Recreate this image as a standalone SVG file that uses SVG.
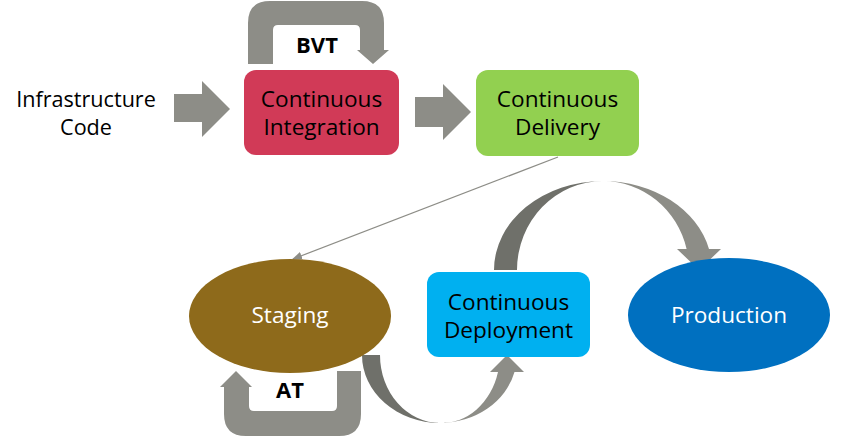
<svg xmlns="http://www.w3.org/2000/svg" width="842" height="447" viewBox="0 0 842 447">
<defs>
<style>
.t{font-family:"Open Sans","Noto Sans","Liberation Sans",sans-serif;font-size:22.6px;text-anchor:middle;fill:#000}
.w{fill:#fff}
.b{font-weight:bold;font-size:22px}
.arr{fill:#8D8D87}
.dark{fill:#6F706A}
</style>
<marker id="ah" markerWidth="10" markerHeight="8" refX="9" refY="4" orient="auto" markerUnits="userSpaceOnUse">
<path d="M0,0 L10,4 L0,8 Z" fill="#8D8D87"/>
</marker>
</defs>
<rect width="842" height="447" fill="#fff"/>

<g id="connectors">
<path class="arr" d="M174,94 L202,94 L202,81 L230,109 L202,137 L202,122 L174,122 Z"/>
<path class="arr" d="M415,97 L443,97 L443,84 L471,112 L443,140 L443,127 L415,127 Z"/>
<path class="arr" d="M248,64 L248,23 Q248,1 270,1 L362,1 Q384,1 384,23 L384,50 L389,50 L373,64 L357,50 L360,50 L360,30 Q360,25 355,25 L278,25 Q273,25 273,30 L273,64 Z"/>
<path class="arr" d="M361,371 L361,414 Q361,436 339,436 L246,436 Q224,436 224,414 L224,387 L220,387 L236,371 L252,387 L249,387 L249,406 Q249,411 254,411 L332,411 Q337,411 337,406 L337,371 Z"/>
<line x1="558" y1="157" x2="293" y2="259" stroke="#8D8D87" stroke-width="1.2" marker-end="url(#ah)"/>
<path class="dark" d="M494,270 A109,89 0 0 1 603,181 A86,89 0 0 0 517,270 Z"/>
<path class="arr" d="M603,181 A109,89 0 0 1 709,249 L721,249 L699,270 L677,249 L686.6,249 A86,89 0 0 0 603,181 Z"/>
<path class="dark" d="M362,355 A78,68 0 0 0 440,423 A60,68 0 0 1 380,355 Z"/>
<path class="arr" d="M440,423 A77,68 0 0 0 514.5,372 L524,372 L507,355 L490,372 L498,372 A58,68 0 0 1 440,423 Z"/>
</g>

<g id="infra">
<text class="t" x="86" y="107" style="font-size:21.6px">Infrastructure</text>
<text class="t" x="86" y="135" style="font-size:21.6px">Code</text>
</g>

<g id="bvt"><text class="t b" x="317" y="53">BVT</text></g>
<g id="at"><text class="t b" x="290" y="398">AT</text></g>

<g id="ci">
<rect x="244" y="70" width="155" height="85" rx="12" fill="#D13A57"/>
<text class="t" x="321.5" y="107">Continuous</text>
<text class="t" x="321.5" y="135">Integration</text>
</g>

<g id="cd">
<rect x="476" y="70" width="163" height="86" rx="12" fill="#92D050"/>
<text class="t" x="557.5" y="107">Continuous</text>
<text class="t" x="557.5" y="135">Delivery</text>
</g>

<g id="staging">
<ellipse cx="290" cy="316" rx="101" ry="57" fill="#8E6A1B"/>
<text class="t w" x="290" y="323">Staging</text>
</g>

<g id="cdeploy">
<rect x="427" y="272" width="163" height="85" rx="12" fill="#00B0F0"/>
<text class="t" x="508.5" y="310">Continuous</text>
<text class="t" x="508.5" y="338">Deployment</text>
</g>

<g id="production">
<ellipse cx="729" cy="315" rx="101" ry="57" fill="#0070C0"/>
<text class="t w" x="729" y="323">Production</text>
</g>
</svg>
